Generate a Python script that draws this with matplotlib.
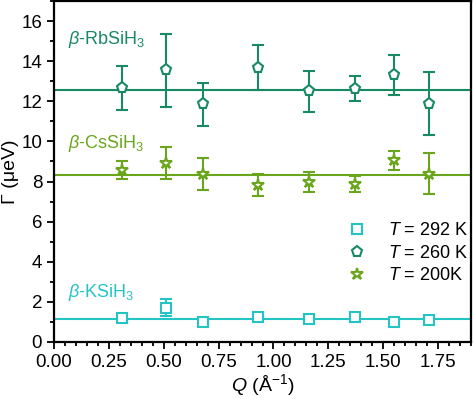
import matplotlib

matplotlib.use("Agg")
import matplotlib.pyplot as plt
from matplotlib.lines import Line2D
from matplotlib.ticker import MultipleLocator

# Line widths of quasielastic peaks vs momentum transfer for the three silanides.
plt.rcParams["font.family"] = ["Liberation Sans", "DejaVu Sans"]
plt.rcParams["mathtext.fontset"] = "custom"
plt.rcParams["mathtext.rm"] = "Liberation Sans"
plt.rcParams["mathtext.it"] = "Liberation Sans:italic"
plt.rcParams["mathtext.bf"] = "Liberation Sans:bold"

Q_VALUES = [0.31, 0.51, 0.68, 0.93, 1.16, 1.37, 1.55, 1.71]

K_GAMMA = [1.21, 1.71, 0.98, 1.24, 1.15, 1.24, 1.01, 1.11]
K_ERR = [0.15, 0.43, 0.06, 0.10, 0.12, 0.12, 0.10, 0.12]
K_MEAN = 1.13

RB_GAMMA = [12.66, 13.55, 11.85, 13.68, 12.50, 12.63, 13.30, 11.89]
RB_ERR = [1.08, 1.81, 1.08, 1.13, 1.01, 0.63, 0.99, 1.56]
RB_MEAN = 12.58

CS_GAMMA = [8.57, 8.93, 8.38, 7.82, 7.97, 7.88, 9.06, 8.40]
CS_ERR = [0.44, 0.80, 0.78, 0.55, 0.50, 0.38, 0.48, 1.00]
CS_MEAN = 8.33

K_COLOR = "#25c4c4"
RB_COLOR = "#178a62"
CS_COLOR = "#6aa61c"


def main() -> None:
    fig = plt.figure(figsize=(4.74, 3.99), dpi=100)
    ax = fig.add_axes([54 / 474, 57 / 399, 417 / 474, 341 / 399])

    series = [
        (K_GAMMA, K_ERR, K_MEAN, K_COLOR, "s", 6.5, r"$\mathit{T}$ = 292 K"),
        (RB_GAMMA, RB_ERR, RB_MEAN, RB_COLOR, "p", 8.0, r"$\mathit{T}$ = 260 K"),
        (CS_GAMMA, CS_ERR, CS_MEAN, CS_COLOR, "*", 9.0, r"$\mathit{T}$ = 200K"),
    ]
    handles = []
    for gamma, err, mean, color, marker, size, label in series:
        ax.axhline(mean, color=color, linewidth=1.5, zorder=1)
        ax.errorbar(
            Q_VALUES,
            gamma,
            yerr=err,
            fmt=marker,
            markersize=size,
            markerfacecolor="white",
            markeredgecolor=color,
            markeredgewidth=1.5,
            ecolor=color,
            elinewidth=1.5,
            capsize=4.5,
            capthick=1.5,
            zorder=3,
        )
        handles.append(
            Line2D(
                [], [], linestyle="none", marker=marker, markersize=size,
                markerfacecolor="white", markeredgecolor=color,
                markeredgewidth=1.5, label=label,
            )
        )

    ax.text(0.065, 15.1, r"$\beta$-RbSiH$_3$", color=RB_COLOR, fontsize=13, va="center")
    ax.text(0.065, 9.9, r"$\beta$-CsSiH$_3$", color=CS_COLOR, fontsize=13, va="center")
    ax.text(0.065, 2.45, r"$\beta$-KSiH$_3$", color=K_COLOR, fontsize=13, va="center")

    ax.set_xlim(0, 1.9)
    ax.set_ylim(0, 17)
    ax.xaxis.set_major_locator(MultipleLocator(0.25))
    ax.xaxis.set_minor_locator(MultipleLocator(0.05))
    ax.yaxis.set_major_locator(MultipleLocator(2))
    ax.yaxis.set_minor_locator(MultipleLocator(1))
    ax.xaxis.set_major_formatter(lambda v, _: f"{v:.2f}")
    ax.tick_params(which="both", direction="out", width=1.3, labelsize=13.5)
    ax.tick_params(which="major", length=5)
    ax.tick_params(which="minor", length=3)
    for spine in ax.spines.values():
        spine.set_linewidth(1.6)

    ax.set_xlabel(r"$\mathit{Q}$ (Å$^{-1}$)", fontsize=14, labelpad=1)
    ax.set_ylabel("Γ (μeV)", fontsize=14)
    ax.yaxis.set_label_coords(-0.083, 0.5)

    ax.legend(
        handles=handles,
        loc="center left",
        bbox_to_anchor=(0.68, 0.26),
        frameon=False,
        fontsize=13,
        borderpad=0,
        handletextpad=1.1,
        labelspacing=0.3,
        handlelength=1.2,
    )

    fig.savefig("out.png", dpi=100)
    plt.close(fig)


if __name__ == "__main__":
    main()
